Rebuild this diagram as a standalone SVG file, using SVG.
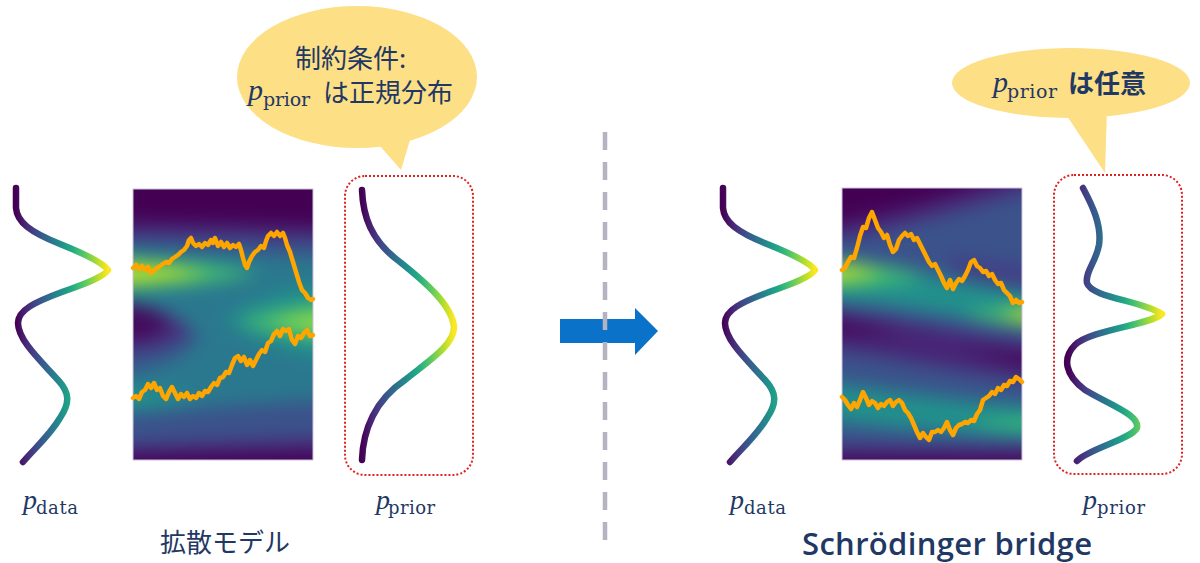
<svg xmlns="http://www.w3.org/2000/svg" width="1200" height="563" viewBox="0 0 1200 563">
<style>
.jp{font-family:"Noto Sans CJK JP",sans-serif;fill:#1f3864}
.pm{font-family:"Liberation Serif",serif;font-style:italic;fill:#1f3864}
.sub{font-family:"DejaVu Serif",serif;fill:#1f3864}
.traj{fill:none;stroke:#ffa500;stroke-width:4.5;stroke-linejoin:round;stroke-linecap:round}
.dens{fill:none;stroke-width:6.5;stroke-linecap:round;stroke-linejoin:round}
.box{fill:none;stroke:#dd2222;stroke-width:2;stroke-dasharray:2 2}
.bubble{fill:#fddf86}
.hmb{fill:none;stroke:#cdc3db;stroke-width:1}
</style>
<defs>
<linearGradient id="vir" gradientUnits="objectBoundingBox" x1="0" y1="0" x2="1" y2="0">
<stop offset="0" stop-color="#440154"/><stop offset="0.1" stop-color="#482475"/><stop offset="0.2" stop-color="#414487"/><stop offset="0.3" stop-color="#355f8d"/><stop offset="0.4" stop-color="#2a788e"/><stop offset="0.5" stop-color="#21918c"/><stop offset="0.6" stop-color="#22a884"/><stop offset="0.7" stop-color="#44bf70"/><stop offset="0.8" stop-color="#7ad151"/><stop offset="0.9" stop-color="#bddf26"/><stop offset="1" stop-color="#fde725"/>
</linearGradient>
<linearGradient id="gData" href="#vir" gradientUnits="userSpaceOnUse" x1="16" y1="0" x2="108" y2="0"/>
<linearGradient id="gPriorL" href="#vir" gradientUnits="userSpaceOnUse" x1="362" y1="0" x2="454" y2="0"/>
<linearGradient id="gPriorR" href="#vir" gradientUnits="userSpaceOnUse" x1="1068" y1="0" x2="1162" y2="0"/>
<clipPath id="clipL"><rect x="133" y="189" width="180" height="271"/></clipPath>
<clipPath id="clipR"><rect x="842" y="188" width="180" height="272"/></clipPath>
<filter id="blurL" filterUnits="userSpaceOnUse" x="60" y="100" width="340" height="450" color-interpolation-filters="sRGB"><feGaussianBlur stdDeviation="9"/></filter>
<filter id="blurR" filterUnits="userSpaceOnUse" x="770" y="100" width="340" height="450" color-interpolation-filters="sRGB"><feGaussianBlur stdDeviation="9"/></filter>
<path id="dataCurve" d="M16,188 L16,208 C17,222 30,232 60,244 C85,254 104,264 108,270 C104,277 85,284 62,292 C35,302 18,310 18,323 C18,340 40,360 58,380 C70,393 70,403 60,418 C50,435 35,448 23,462"/>
</defs>

<!-- Left: diffusion model -->
<g id="left-data">
<use href="#dataCurve" class="dens" stroke="url(#gData)"/>
</g>

<g id="left-heatmap">
<rect x="133" y="189" width="180" height="271" fill="#440154"/>
<g clip-path="url(#clipL)">
<g filter="url(#blurL)">
<rect x="80" y="120" width="300" height="410" fill="#440154"/>
<path d="M80,222 C180,222 260,225 380,228 L380,452 C260,453 180,455 80,457 Z" fill="#482878"/>
<path d="M80,236 C180,235 260,238 380,242 L380,436 C260,440 180,444 80,446 Z" fill="#3b528b"/>
<ellipse cx="126" cy="323" rx="64" ry="28" fill="#472d7b"/>
<ellipse cx="126" cy="323" rx="40" ry="17" fill="#450a5c"/>
<path d="M80,246 C190,250 260,256 380,258 L380,398 C260,402 190,410 80,418 L80,378 C150,374 180,360 200,338 C180,315 150,302 80,298 Z" fill="#2a788e"/>
<path d="M80,252 C180,256 230,262 262,271 C230,281 180,291 80,295 Z" fill="#21918c"/>
<path d="M380,276 C290,285 250,300 225,320 C250,340 290,355 380,365 Z" fill="#21918c"/>
<path d="M80,384 C150,387 180,394 205,398 C180,403 150,409 80,413 Z" fill="#21918c"/>
<path d="M80,258 C170,261 220,267 258,274 C220,281 170,287 80,290 Z" fill="#4ac16d"/>
<path d="M380,297 C300,304 265,314 238,322 C265,330 300,339 380,348 Z" fill="#4ac16d"/>
<path d="M80,262 C150,264 185,269 208,273 C185,278 150,282 80,285 Z" fill="#c8e020"/>
<path d="M380,306 C310,312 290,317 272,322 C290,327 310,333 380,338 Z" fill="#8fd744"/>
</g>
</g>
<rect x="133" y="189" width="180" height="271" class="hmb"/>
<polyline class="traj" points="133,268 136,265 139,269 142,266 145,270 148,267 151,273 154,270 157,268 160,266 163,264 166,262 169,263 172,259 175,257 178,255 181,252 184,250 187,246 189,240 191,238 193,243 196,246 199,244 202,247 205,243 208,245 211,240 213,243 215,238 218,246 221,242 224,247 227,243 230,248 233,245 236,247 239,244 241,250 243,258 245,265 247,268 249,262 252,256 255,252 258,250 261,246 264,248 266,241 268,236 271,233 274,236 277,232 280,236 283,233 285,238 287,245 290,252 293,262 296,272 299,282 302,290 305,293 308,298 311,300 313,299"/>
<polyline class="traj" points="133,398 136,396 139,399 142,392 145,390 148,384 151,388 154,383 157,390 160,388 163,396 166,399 169,392 172,387 175,393 178,399 181,394 184,397 187,393 190,399 193,396 196,398 199,393 202,396 205,391 208,392 211,387 214,383 217,385 220,378 223,377 226,372 229,373 232,365 235,358 238,356 241,361 244,357 247,365 250,360 253,366 256,360 259,354 262,350 265,352 268,343 271,341 274,334 277,331 280,336 283,329 286,331 289,329 292,340 295,344 298,336 301,338 304,333 307,330 310,336 313,335"/>
</g>

<g id="left-prior">
<rect x="345" y="176" width="128" height="299" rx="20" class="box"/>
<path class="dens" stroke="url(#gPriorL)" d="M362,190 C363,215 370,240 400,262 C425,282 452,305 454,327 C454,345 430,360 405,380 C375,400 363,430 362,460"/>
</g>

<g id="left-bubble">
<ellipse cx="357" cy="77" rx="120" ry="71" class="bubble"/>
<polygon points="366,130 413,130 401,170" class="bubble"/>
<text x="295" y="68" class="jp" font-size="26">制約条件:</text>
<text x="248" y="100" class="pm" font-size="30">p</text>
<text x="263" y="106" class="sub" font-size="19" textLength="47">prior</text>
<text x="323" y="102" class="jp" font-size="26">は正規分布</text>
</g>

<g id="left-labels">
<text x="23" y="509" class="pm" font-size="28">p</text>
<text x="36" y="514" class="sub" font-size="18" textLength="42">data</text>
<text x="376" y="509" class="pm" font-size="28">p</text>
<text x="388" y="514" class="sub" font-size="18" textLength="47">prior</text>
<text x="160" y="552" class="jp" font-size="26">拡散モデル</text>
</g>

<!-- connectors -->
<g id="connectors">
<polygon points="560,319 635,319 635,308 658,331 635,355 635,343 560,343" fill="#0a73c9"/>
<line x1="605" y1="132" x2="605" y2="541" stroke="#b4b4c0" stroke-width="4.5" stroke-dasharray="18 12"/>
</g>

<!-- Right: Schrödinger bridge -->
<g id="right-data">
<use href="#dataCurve" class="dens" stroke="url(#gData)" transform="translate(707,0)"/>
</g>

<g id="right-heatmap">
<rect x="842" y="188" width="180" height="272" fill="#440154"/>
<g clip-path="url(#clipR)">
<g filter="url(#blurR)">
<rect x="790" y="120" width="300" height="410" fill="#440154"/>
<path d="M790,232 C900,216 980,185 1090,150 L1090,458 L790,458 Z" fill="#482878"/>
<path d="M790,246 C900,232 980,202 1090,172 L1090,445 C980,447 900,447 790,445 Z" fill="#3b528b"/>
<path d="M950,256 C990,264 1020,268 1090,268 L1090,292 C1020,290 990,284 950,278 Z" fill="#433e85"/>
<path d="M790,304 C880,315 960,336 1090,352 L1090,388 C960,372 880,353 790,342 Z" fill="#482475"/>
<path d="M790,314 C840,322 870,326 900,332 C870,334 840,334 790,332 Z" fill="#440154"/>
<path d="M1090,358 C1040,355 1000,352 960,350 C1000,358 1040,370 1090,378 Z" fill="#440154"/>
<path d="M790,248 C900,262 980,285 1090,300 L1090,338 C980,326 900,305 790,300 Z" fill="#2a788e"/>
<path d="M790,375 C900,388 980,402 1090,407 L1090,443 C980,441 900,432 790,420 Z" fill="#2a788e"/>
<path d="M790,255 C900,270 980,292 1090,303 L1090,333 C980,321 900,298 790,293 Z" fill="#21918c"/>
<path d="M790,383 C900,395 980,410 1090,413 L1090,437 C980,435 900,425 790,412 Z" fill="#21918c"/>
<path d="M790,258 C860,262 895,268 925,277 C895,284 860,288 790,290 Z" fill="#44bf70"/>
<path d="M1090,300 C1010,305 985,310 962,315 C985,320 1010,325 1090,330 Z" fill="#44bf70"/>
<path d="M1090,414 C1010,416 990,419 968,423 C990,427 1010,431 1090,435 Z" fill="#35b779"/>
<path d="M790,263 C845,265 865,269 882,273 C865,277 845,280 790,283 Z" fill="#d5e21a"/>
<path d="M1090,305 C1030,308 1015,311 998,315 C1015,319 1030,322 1090,325 Z" fill="#dce319"/>
</g>
</g>
<rect x="842" y="188" width="180" height="272" class="hmb"/>
<polyline class="traj" points="842,270 845,268 848,262 851,257 854,258 857,248 860,236 863,227 866,228 869,218 872,212 875,220 878,228 881,232 884,238 887,235 890,245 893,252 896,249 899,240 902,236 905,233 908,236 911,234 914,240 917,238 920,244 923,250 926,256 929,262 932,266 935,264 938,270 941,276 944,283 947,288 950,280 953,289 956,283 959,279 962,281 965,276 968,270 971,262 974,260 977,266 980,268 983,272 986,271 989,276 992,274 995,280 998,284 1001,283 1004,290 1007,293 1010,296 1013,303 1016,300 1019,303 1022,302"/>
<polyline class="traj" points="842,397 845,400 848,405 851,409 854,403 857,407 860,400 863,392 866,398 869,405 872,401 875,403 878,408 881,404 884,406 887,402 890,400 893,406 896,402 899,400 902,403 905,410 908,413 911,418 914,425 917,432 920,438 923,433 926,437 929,440 932,432 935,432 938,430 941,432 944,428 947,422 950,430 953,435 956,428 959,425 962,424 965,422 968,423 971,420 974,421 977,414 980,410 983,400 986,398 989,396 992,392 995,394 998,388 1001,390 1004,385 1007,386 1010,381 1013,382 1016,377 1019,379 1022,382"/>
</g>

<g id="right-prior">
<rect x="1054" y="175" width="128" height="299" rx="20" class="box"/>
<path class="dens" stroke="url(#gPriorR)" d="M1083,188 C1092,205 1102,225 1099,245 C1096,262 1085,272 1087,283 C1092,298 1140,300 1162,314 C1150,325 1090,330 1075,345 C1062,358 1065,375 1085,390 C1110,405 1140,415 1137,428 C1130,440 1090,448 1077,461"/>
</g>

<g id="right-bubble">
<ellipse cx="1071" cy="83" rx="119" ry="35" class="bubble"/>
<polygon points="1063,110 1107,110 1105,173" class="bubble"/>
<text x="993" y="92" class="pm" font-size="30">p</text>
<text x="1007" y="98" class="sub" font-size="19" textLength="50">prior</text>
<text x="1068" y="93" class="jp" font-size="26" font-weight="bold">は任意</text>
</g>

<g id="right-labels">
<text x="730" y="509" class="pm" font-size="28">p</text>
<text x="744" y="514" class="sub" font-size="18" textLength="42">data</text>
<text x="1083" y="509" class="pm" font-size="28">p</text>
<text x="1097" y="514" class="sub" font-size="18" textLength="48">prior</text>
<text x="802" y="555" font-family="'Open Sans',sans-serif" font-weight="600" font-size="31" fill="#1f3864" textLength="290">Schrödinger bridge</text>
</g>
</svg>
